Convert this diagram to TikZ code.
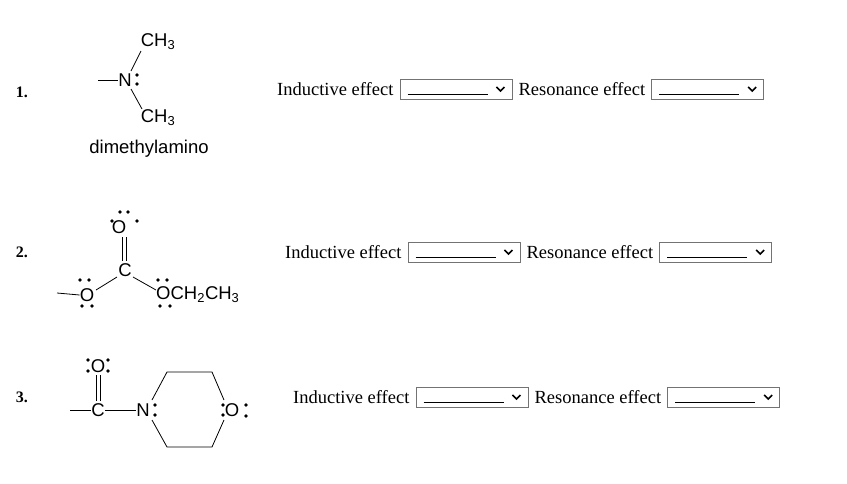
\documentclass[tikz,border=0pt]{standalone}
\usepackage{fontspec}
\setmainfont{Liberation Serif}
\setsansfont{Liberation Sans}
\begin{document}
\begin{tikzpicture}[x=1pt,y=-1pt,
  chem/.style={font=\sffamily\fontsize{18.5}{18.5}\selectfont, inner sep=0pt},
  lbl/.style={font=\fontsize{18.5}{18.5}\selectfont, inner sep=0pt, anchor=west},
  num/.style={font=\bfseries\fontsize{16}{16}\selectfont, inner sep=0pt},
  sel/.style={draw=black!55, line width=0.8pt, minimum width=112pt, minimum height=20pt, inner sep=0pt, anchor=west},
  bond/.style={line width=0.8pt},
  dot/.style={circle, fill, inner sep=1.35pt}]
\useasboundingbox (0,0) rectangle (847,483);
% numbers
\node[num] (n1) at (22,92) {1.};
\node[num] (n2) at (22,252) {2.};
\node[num] (n3) at (22,397) {3.};
% dropdown rows
\foreach \r/\xi/\y in {1/277/89, 2/285/252, 3/293/397}{
  \node[lbl] (ind\r) at (\xi,\y) {Inductive effect};
  \node[sel] (s\r a) at ([xshift=6pt]ind\r.east) {};
  \node[lbl] (res\r) at ([xshift=6pt]s\r a.east) {Resonance effect};
  \node[sel] (s\r b) at ([xshift=6pt]res\r.east) {};
  \draw[line width=0.8pt] ([xshift=8pt,yshift=-5pt]s\r a.west) -- ([xshift=88pt,yshift=-5pt]s\r a.west);
  \draw[line width=0.8pt] ([xshift=8pt,yshift=-5pt]s\r b.west) -- ([xshift=88pt,yshift=-5pt]s\r b.west);
  \draw[line width=1.6pt] ([xshift=-16pt,yshift=2pt]s\r a.east) -- ([xshift=-12pt,yshift=-2pt]s\r a.east) -- ([xshift=-8pt,yshift=2pt]s\r a.east);
  \draw[line width=1.6pt] ([xshift=-16pt,yshift=2pt]s\r b.east) -- ([xshift=-12pt,yshift=-2pt]s\r b.east) -- ([xshift=-8pt,yshift=2pt]s\r b.east);
}
% ---- structure 1
\node[chem] (N1) at (125,80) {N};
\node[chem] (m1) at (158,42) {CH\textsubscript{3}};
\node[chem] (m2) at (158,118) {CH\textsubscript{3}};
\node[chem] (dm) at (149,149) {dimethylamino};
\coordinate (l1) at (98,80);
\draw[bond] (l1) -- (N1.west);
\draw[bond] (131,71) -- (141,51);
\draw[bond] (131,89) -- (142,109);
\node[dot] (d1) at (137,75) {}; \node[dot] (d2) at (137,84) {};
% ---- structure 2
\node[chem] (O2t) at (119,227) {O};
\node[chem] (C2) at (125,270) {C};
\node[chem] (O2l) at (87,295) {O};
\node[chem,anchor=west] (O2r) at (156,295) {OCH\textsubscript{2}CH\textsubscript{3}};
\coordinate (l2) at (57,293);
\draw[bond] (l2) -- (O2l.west);
\draw[bond] (122,237) -- (122,261);
\draw[bond] (126,237) -- (126,261);
\draw[bond] (117,277) -- (96,290);
\draw[bond] (133,277) -- (156,290);
\node[dot] at (120,212) {}; \node[dot] at (128,212) {};
\node[dot] at (112,221) {}; \node[dot] at (137,221) {};
\node[dot] at (80,280) {}; \node[dot] at (89,280) {};
\node[dot] at (82,306) {}; \node[dot] at (92,306) {};
\node[dot] at (158,280) {}; \node[dot] at (167,280) {};
\node[dot] at (160,306) {}; \node[dot] at (170,306) {};
% ---- structure 3
\node[chem] (O3t) at (98,366) {O};
\node[chem] (C3) at (98,410) {C};
\node[chem] (N3) at (143,410) {N};
\node[chem] (O3) at (232,410) {O};
\coordinate (l3) at (70,410);
\coordinate (r1) at (167,372); \coordinate (r2) at (212,372);
\coordinate (r3) at (212,447); \coordinate (r4) at (167,447);
\draw[bond] (l3) -- (C3.west);
\draw[bond] (C3.east) -- (N3.west);
\draw[bond] (96,375) -- (96,401);
\draw[bond] (100,375) -- (100,401);
\draw[bond] (152,400) -- (r1) -- (r2) -- (224,400);
\draw[bond] (152,420) -- (r4) -- (r3) -- (224,420);
\node[dot] at (88,360) {}; \node[dot] at (88,371) {};
\node[dot] at (108,360) {}; \node[dot] at (108,371) {};
\node[dot] at (155,405) {}; \node[dot] at (155,415) {};
\node[dot] at (223,405) {}; \node[dot] at (223,415) {};
\node[dot] at (246,405) {}; \node[dot] at (246,416) {};
\end{tikzpicture}
\end{document}
